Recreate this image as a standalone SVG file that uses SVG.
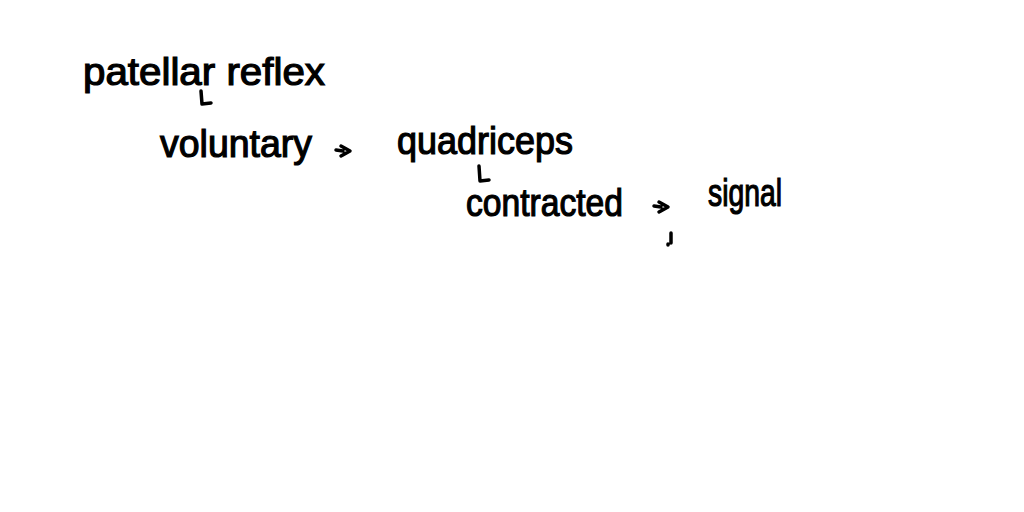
<svg xmlns="http://www.w3.org/2000/svg" width="1024" height="512" viewBox="0 0 1024 512">
<style>
.t{font-family:"Liberation Sans","DejaVu Sans",sans-serif;font-size:38px;fill:#000;stroke:#000;stroke-width:1.2;}
.s{fill:none;stroke:#000;stroke-width:3.5;stroke-linecap:round;stroke-linejoin:round;}
</style>
<rect width="1024" height="512" fill="#fff"/>
<g id="patellar-reflex"><text class="t" x="83" y="85" textLength="242" lengthAdjust="spacingAndGlyphs">patellar reflex</text></g>
<g id="voluntary"><text class="t" x="160" y="157" textLength="152" lengthAdjust="spacingAndGlyphs">voluntary</text></g>
<g id="quadriceps"><text class="t" x="397" y="154" textLength="176" lengthAdjust="spacingAndGlyphs">quadriceps</text></g>
<g id="contracted"><text class="t" x="466" y="216" textLength="157" lengthAdjust="spacingAndGlyphs">contracted</text></g>
<g id="signal"><text class="t" x="708" y="206" textLength="74" lengthAdjust="spacingAndGlyphs">signal</text></g>
<g id="connectors">
<path class="s" d="M201 91 L202 104 L211 103"/>
<path class="s" d="M341 146 L350 151 L341 156 M336 150 L343 151"/>
<path class="s" d="M479 166 L480 181 L489 180"/>
<path class="s" d="M659 202 L668 207 L659 212 M654 206 L661 207"/>
<path class="s" d="M671 233 L671 243 M668 244 L668 245"/>
</g>
</svg>
